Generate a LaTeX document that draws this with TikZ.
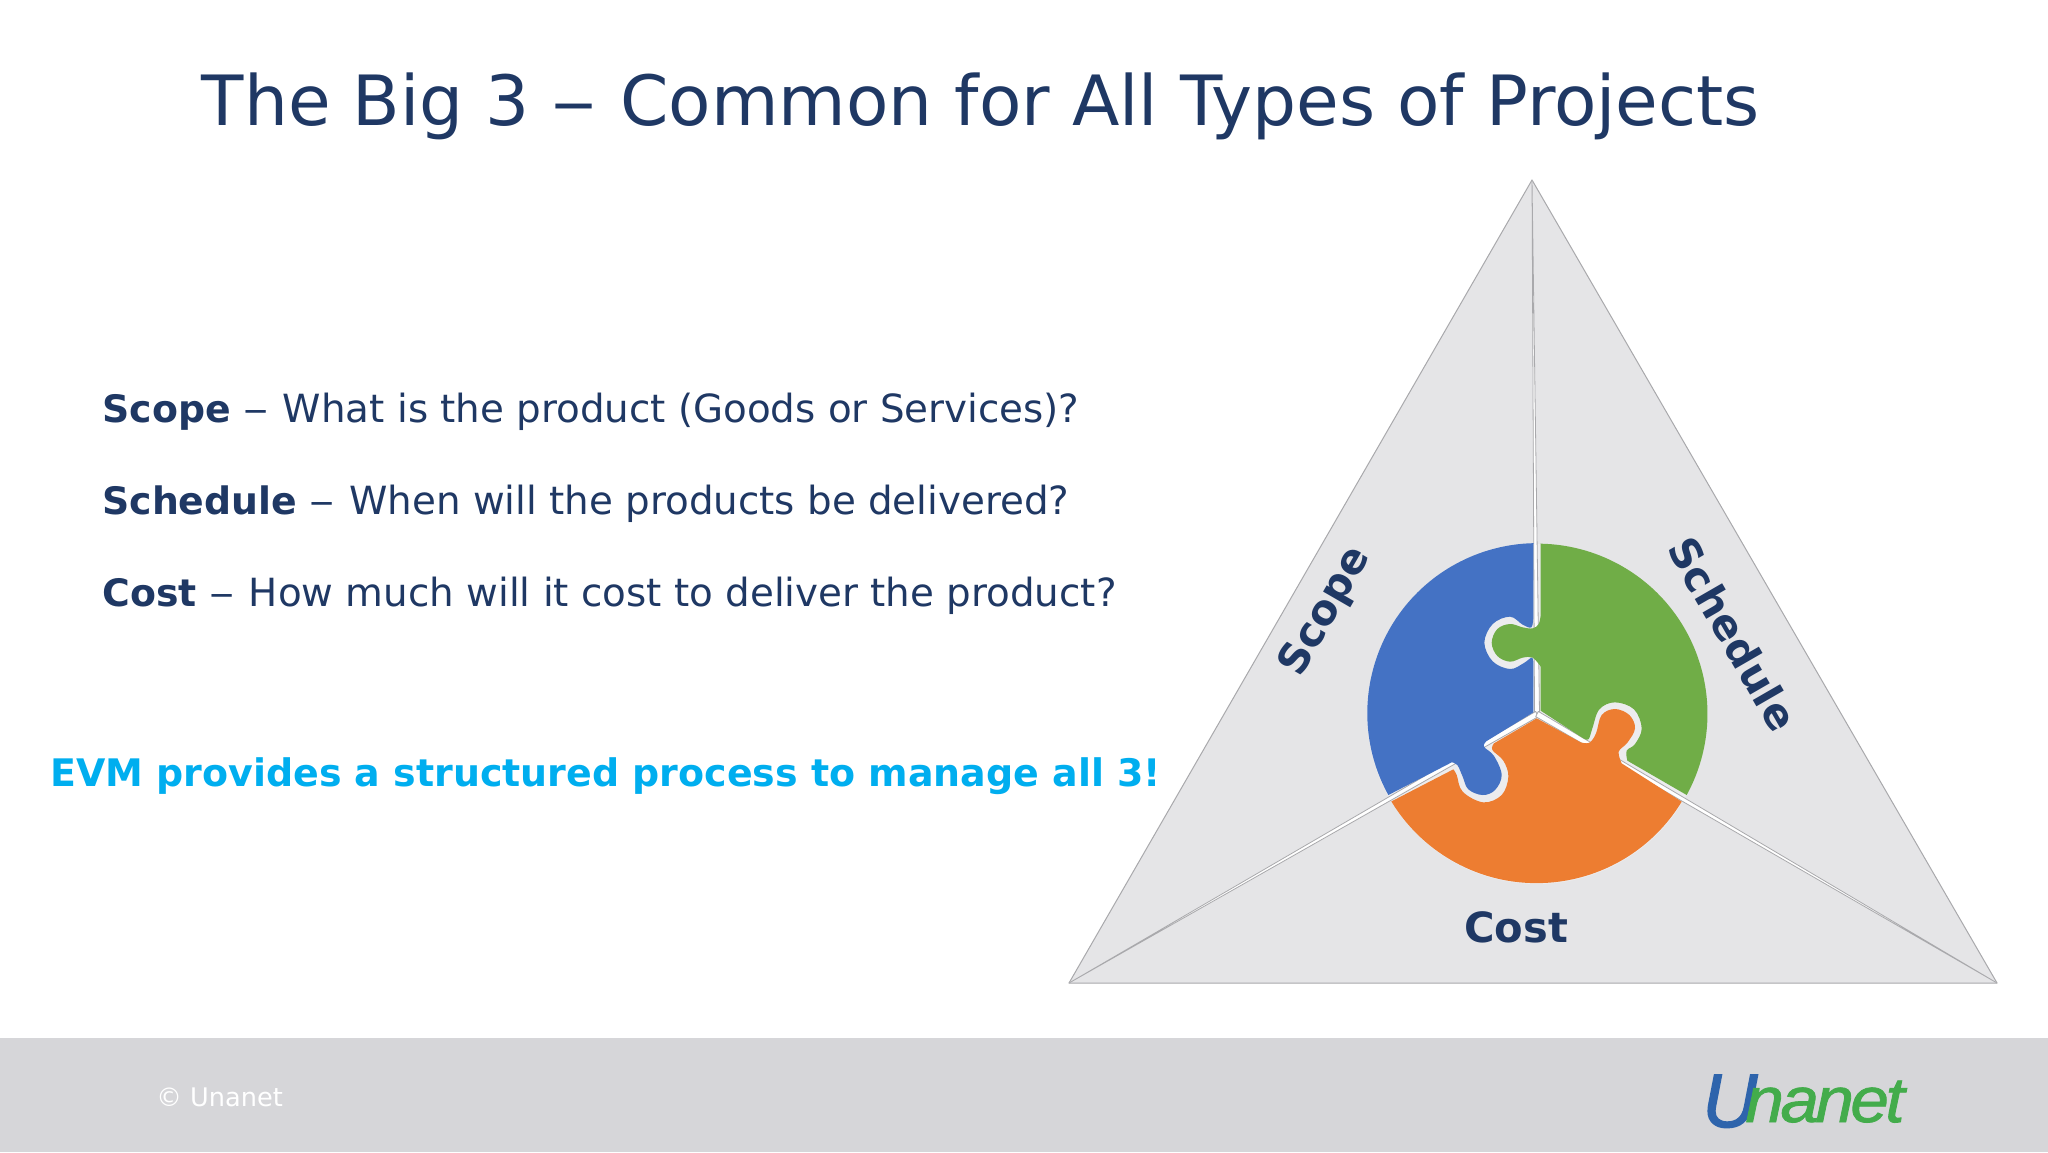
\documentclass[tikz,border=0pt]{standalone}
\usepackage{fontspec}
\usepackage{graphicx}
\usetikzlibrary{calc}
\setmainfont{DejaVu Sans}
\newfontfamily\logofont[LetterSpace=-5,FakeBold=1.2]{Liberation Sans Italic}
\newfontfamily\logoufont[FakeBold=1.8]{Liberation Sans Italic}
\definecolor{navy}{HTML}{1F3864}
\definecolor{evmblue}{HTML}{00AEEF}
\definecolor{band}{HTML}{D6D6D9}
\definecolor{trifill}{HTML}{E5E5E7}
\definecolor{gapfill}{HTML}{ECECEE}
\definecolor{triline}{HTML}{A9A9AC}
\definecolor{pblue}{HTML}{4472C4}
\definecolor{pgreen}{HTML}{70AD47}
\definecolor{porange}{HTML}{ED7D31}
\definecolor{logoblue}{HTML}{2E64AC}
\definecolor{logogreen}{HTML}{43AC4B}
\newcommand{\bodybold}[1]{{\fontsize{18.9}{24}\selectfont\bfseries #1}}
\newcommand{\widedash}{\scalebox{1.3}[1]{–}}
\tikzset{
  body/.style={anchor=base west,inner sep=0pt,text=navy,font=\fontsize{19.4}{24}\selectfont},
  triLabel/.style={inner sep=0pt,text=navy,font=\fontsize{20.8}{26}\selectfont\bfseries},
  spoke/.style={fill=white,draw=triline,line width=0.4pt,line join=round},
}
\begin{document}
\begin{tikzpicture}[x=0.5pt,y=-0.5pt]
\useasboundingbox (0,0) rectangle (2048,1152);
\fill[white] (0,0) rectangle (2048,1152);
\fill[band] (0,1038) rectangle (2048,1152);
\node[anchor=base west,inner sep=0pt,text=navy,font=\fontsize{34.66}{42}\selectfont] (title) at (201.5,125) {The Big 3 \widedash\hspace{0.8pt} Common for All Types of Projects};
\node[body] (scope) at (102,422.5) {\bodybold{Scope} \widedash\hspace{1.2pt} What is the product (Goods or Services)?};
\node[body] (sched) at (102,514.5) {\bodybold{Schedule} \widedash\hspace{1.2pt} When will the products be delivered?};
\node[body] (cost) at (102,606.5) {\bodybold{Cost} \widedash\hspace{1.2pt} How much will it cost to deliver the product?};
\node[anchor=base west,inner sep=0pt,text=evmblue,font=\fontsize{18.97}{25}\selectfont\bfseries] (evm) at (50,786) {EVM provides a structured process to manage all 3!};
\node[anchor=base west,inner sep=0pt,text=white,font=\fontsize{12.8}{16}\selectfont] (copy) at (156,1106) {© Unanet};
% triangle
\coordinate (A) at (1532,180);
\coordinate (L) at (1069,983);
\coordinate (R) at (1997,983);
\coordinate (C) at (1537,714);
\fill[trifill,draw=triline,line width=0.5pt,line join=round] (A) -- (R) -- (L) -- cycle;
\fill[gapfill] (C) circle[radius=85pt];
\draw[spoke] (A) -- (1534.5,714) -- (1539.5,714) -- cycle;
\draw[spoke] (L) -- ($(C)+(-1.3,-2.6)$) -- ($(C)+(1.3,2.6)$) -- cycle;
\draw[spoke] (R) -- ($(C)+(-1.3,2.6)$) -- ($(C)+(1.3,-2.6)$) -- cycle;
\begin{scope}[xshift=670pt,yshift=-260pt,x=0.166667pt,y=-0.166667pt]
\fill[pblue] (580,70) -- (580,292)
 -- plot[smooth,tension=.6] coordinates {(580,292) (574,322) (548,314) (510,290) (458,312) (433,368) (458,424) (510,447) (550,430) (575,413) (580,428)}
 -- (580,577) -- (440,663)
 -- plot[smooth,tension=.6] coordinates {(440,663) (432,680) (462,708) (485,765) (465,810) (428,825) (385,808) (368,770) (352,735) (335,727)}
 -- (145,825) arc[start angle=208.8,end angle=91.2,radius=85pt] -- cycle;
\fill[pgreen] (602,70) -- (602,285)
 -- plot[smooth,tension=.6] coordinates {(602,285) (596,312) (578,325) (548,322) (510,312) (472,327) (455,368) (472,408) (510,425) (548,413) (578,413) (602,440)}
 -- (602,572) -- (725,652)
 -- plot[smooth,tension=.6] coordinates {(725,652) (745,658) (757,625) (778,568) (825,547) (882,568) (905,625) (885,672) (860,692) (862,722)}
 -- (1040,825) arc[start angle=-28.6,end angle=88.8,radius=85pt] -- cycle;
\fill[porange] (590,595) -- (722,667)
 -- plot[smooth,tension=.6] coordinates {(722,667) (748,668) (768,640) (785,585) (825,567) (868,585) (885,625) (862,668) (836,695) (845,730)}
 -- (1025,845) arc[start angle=-31.4,end angle=-148.7,radius=85pt]
 -- (340,748)
 -- plot[smooth,tension=.6] coordinates {(340,748) (350,765) (368,815) (430,847) (485,825) (505,770) (490,722) (457,690) (462,670)}
 -- cycle;
\end{scope}
\node[triLabel,rotate=60] (lscope) at (1326,612) {Scope};
\node[triLabel,rotate=-60] (lsched) at (1733,634) {Schedule};
\node[triLabel] (lcost) at (1516,927) {Cost};
% logo
\node[anchor=base west,inner sep=0pt,text=logoblue,font=\logoufont\fontsize{38}{40}\selectfont] (logoU) at (1702,1127) {U};
\node[anchor=base west,inner sep=0pt,text=logogreen,xscale=1.08,font=\logofont\fontsize{32}{36}\selectfont] (logoN) at (1745,1122) {nanet};
\end{tikzpicture}
\end{document}
